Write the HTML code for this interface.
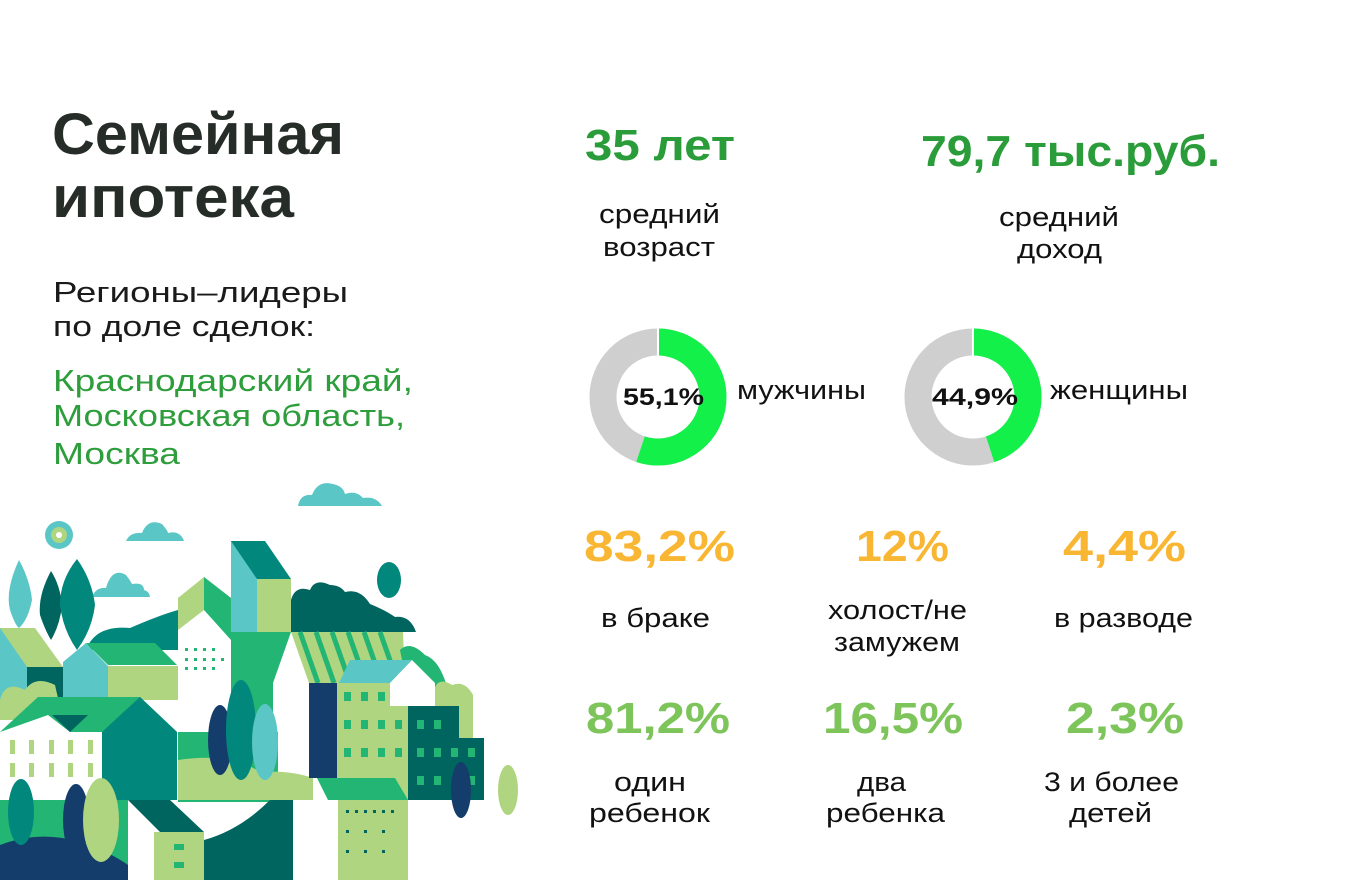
<!DOCTYPE html>
<html><head><meta charset="utf-8"><style>html,body{margin:0;padding:0;background:#fff}svg{display:block}</style></head>
<body>
<svg width="1360" height="880" viewBox="0 0 1360 880" xmlns="http://www.w3.org/2000/svg" font-family="Liberation Sans, DejaVu Sans, sans-serif">
<g lengthAdjust="spacingAndGlyphs">
<text x="52" y="154" font-size="58" font-weight="bold" fill="#262c28" textLength="292" lengthAdjust="spacingAndGlyphs">Семейная</text>
<text x="52" y="217" font-size="58" font-weight="bold" fill="#262c28" textLength="242" lengthAdjust="spacingAndGlyphs">ипотека</text>
<text x="53" y="302" font-size="29" fill="#1a1a1a" textLength="295" lengthAdjust="spacingAndGlyphs">Регионы–лидеры</text>
<text x="53" y="336" font-size="29" fill="#1a1a1a" textLength="262" lengthAdjust="spacingAndGlyphs">по доле сделок:</text>
<text x="53" y="391" font-size="31" fill="#2e9e3c" textLength="360" lengthAdjust="spacingAndGlyphs">Краснодарский край,</text>
<text x="53" y="426" font-size="31" fill="#2e9e3c" textLength="352" lengthAdjust="spacingAndGlyphs">Московская область,</text>
<text x="53" y="464" font-size="31" fill="#2e9e3c" textLength="127" lengthAdjust="spacingAndGlyphs">Москва</text>

<text x="585" y="160" font-size="44" font-weight="bold" fill="#2a9d3a" textLength="150" lengthAdjust="spacingAndGlyphs">35 лет</text>
<text x="921" y="166" font-size="44" font-weight="bold" fill="#2a9d3a" textLength="299" lengthAdjust="spacingAndGlyphs">79,7 тыс.руб.</text>
<g font-size="27" fill="#111">
<text x="599" y="223" textLength="121" lengthAdjust="spacingAndGlyphs">средний</text>
<text x="603" y="256" textLength="112" lengthAdjust="spacingAndGlyphs">возраст</text>
<text x="999" y="226" textLength="120" lengthAdjust="spacingAndGlyphs">средний</text>
<text x="1017" y="258" textLength="85" lengthAdjust="spacingAndGlyphs">доход</text>
<text x="737" y="399" textLength="129" lengthAdjust="spacingAndGlyphs">мужчины</text>
<text x="1050" y="399" textLength="138" lengthAdjust="spacingAndGlyphs">женщины</text>
<text x="601" y="627" textLength="109" lengthAdjust="spacingAndGlyphs">в браке</text>
<text x="828" y="619" textLength="139" lengthAdjust="spacingAndGlyphs">холост/не</text>
<text x="834" y="651" textLength="126" lengthAdjust="spacingAndGlyphs">замужем</text>
<text x="1054" y="627" textLength="139" lengthAdjust="spacingAndGlyphs">в разводе</text>
<text x="614" y="791" textLength="72" lengthAdjust="spacingAndGlyphs">один</text>
<text x="589" y="822" textLength="121" lengthAdjust="spacingAndGlyphs">ребенок</text>
<text x="857" y="791" textLength="49" lengthAdjust="spacingAndGlyphs">два</text>
<text x="826" y="822" textLength="119" lengthAdjust="spacingAndGlyphs">ребенка</text>
<text x="1044" y="791" textLength="135" lengthAdjust="spacingAndGlyphs">3 и более</text>
<text x="1069" y="822" textLength="83" lengthAdjust="spacingAndGlyphs">детей</text>
</g>
<g font-size="44" font-weight="bold" fill="#f8b632">
<text x="584" y="561" textLength="151" lengthAdjust="spacingAndGlyphs">83,2%</text>
<text x="856" y="561" textLength="93" lengthAdjust="spacingAndGlyphs">12%</text>
<text x="1063" y="561" textLength="123" lengthAdjust="spacingAndGlyphs">4,4%</text>
</g>
<g font-size="44" font-weight="bold" fill="#7dc45a">
<text x="586" y="733" textLength="144" lengthAdjust="spacingAndGlyphs">81,2%</text>
<text x="823" y="733" textLength="140" lengthAdjust="spacingAndGlyphs">16,5%</text>
<text x="1066" y="733" textLength="118" lengthAdjust="spacingAndGlyphs">2,3%</text>
</g>
</g>

<!-- donuts -->
<g fill="none" stroke-width="27">
<circle cx="658" cy="397" r="55" stroke="#cfcfcf"/>
<circle cx="658" cy="397" r="55" stroke="#14f04a" stroke-dasharray="190.4 400" transform="rotate(-90 658 397)"/>
<circle cx="973" cy="397" r="55" stroke="#cfcfcf"/>
<circle cx="973" cy="397" r="55" stroke="#14f04a" stroke-dasharray="155.2 400" transform="rotate(-90 973 397)"/>
</g>
<line x1="658" y1="328" x2="658" y2="356" stroke="#fff" stroke-width="2"/>
<line x1="973" y1="328" x2="973" y2="356" stroke="#fff" stroke-width="2"/>
<text x="623" y="405" font-size="24" font-weight="bold" fill="#111" textLength="81" lengthAdjust="spacingAndGlyphs">55,1%</text>
<text x="932" y="405" font-size="24" font-weight="bold" fill="#111" textLength="86" lengthAdjust="spacingAndGlyphs">44,9%</text>

<!-- illustration -->
<g>
<!-- clouds -->
<path d="M298 506 Q300 494 312 495 Q318 480 333 484 Q343 486 345 494 Q356 490 363 498 Q376 496 382 506Z" fill="#5bc6c6"/>
<path d="M126 541 Q130 532 142 533 Q148 518 162 524 Q168 531 168 533 Q180 530 184 541Z" fill="#5bc6c6"/>
<path d="M92 597 Q96 587 106 588 Q112 567 126 575 Q130 580 132 584 Q144 582 144 590 Q149 591 150 597Z" fill="#5bc6c6"/>
<circle cx="59" cy="535" r="14" fill="#5bc6c6"/><circle cx="59" cy="535" r="8" fill="#afd580"/><circle cx="59" cy="535" r="3" fill="#fff"/>
<!-- back hills -->
<path d="M86 650 Q95 625 130 628 Q160 615 178 610 L178 650Z" fill="#02877c"/>
<!-- left house -->
<rect x="0" y="628" width="30" height="90" fill="#5bc6c6"/>
<polygon points="0,628 35,628 63,667 27,667" fill="#afd580"/>
<rect x="27" y="667" width="36" height="40" fill="#00645f"/>
<path d="M0 700 Q5 680 25 690 Q35 675 55 685 L63 720 L0 720Z" fill="#afd580"/>
<!-- trees left -->
<path d="M19 560 Q5 590 10 610 Q15 625 19 628 Q28 620 32 600 Q30 580 19 560Z" fill="#5bc6c6"/>
<path d="M51 571 Q38 595 40 615 Q45 630 51 640 Q60 625 62 605 Q60 585 51 571Z" fill="#00645f"/>
<path d="M77 559 Q60 580 60 605 Q63 630 77 650 Q92 630 95 605 Q92 580 77 559Z" fill="#02877c"/>
<!-- house middle-left -->
<polygon points="63,662 86,643 108,666 108,697 63,697" fill="#5bc6c6"/>
<rect x="108" y="666" width="70" height="34" fill="#afd580"/>
<polygon points="86,643 155,643 177,665 108,665" fill="#22b573"/>
<!-- big green roof building -->
<polygon points="0,732 38,697 140,697 177,732" fill="#22b573"/>
<rect x="0" y="732" width="102" height="70" fill="#fff"/>
<polygon points="0,732 48,715 70,732" fill="#fff"/>
<polygon points="52,715 88,715 70,732" fill="#00645f"/>
<polygon points="102,732 140,697 177,732 177,800 102,800" fill="#02877c"/>
<g fill="#afd580"><rect x="10" y="740" width="5" height="14"/><rect x="29" y="740" width="5" height="14"/><rect x="49" y="740" width="5" height="14"/><rect x="68" y="740" width="5" height="14"/><rect x="88" y="740" width="5" height="14"/><rect x="10" y="763" width="5" height="14"/><rect x="29" y="763" width="5" height="14"/><rect x="49" y="763" width="5" height="14"/><rect x="68" y="763" width="5" height="14"/><rect x="88" y="763" width="5" height="14"/></g>
<!-- bottom left -->
<rect x="0" y="800" width="128" height="80" fill="#22b573"/>
<path d="M0 845 Q40 830 80 842 Q110 852 128 865 L128 880 L0 880Z" fill="#143d6b"/>
<ellipse cx="21" cy="812" rx="13" ry="33" fill="#02877c"/>
<ellipse cx="76" cy="820" rx="13" ry="36" fill="#143d6b"/>
<ellipse cx="101" cy="820" rx="18" ry="42" fill="#afd580"/>
<!-- white tall building center -->
<rect x="178" y="610" width="53" height="150" fill="#fff"/>
<polygon points="178,598 204,577 231,598 204,610 178,630" fill="#afd580"/>
<polygon points="204,577 231,598 231,640 204,610" fill="#22b573"/>
<g fill="#22b573"><rect x="185" y="648" width="3" height="3"/><rect x="194" y="648" width="3" height="3"/><rect x="203" y="648" width="3" height="3"/><rect x="212" y="648" width="3" height="3"/><rect x="185" y="658" width="3" height="3"/><rect x="194" y="658" width="3" height="3"/><rect x="203" y="658" width="3" height="3"/><rect x="212" y="658" width="3" height="3"/><rect x="221" y="658" width="3" height="3"/><rect x="185" y="667" width="3" height="3"/><rect x="194" y="667" width="3" height="3"/><rect x="203" y="667" width="3" height="3"/><rect x="212" y="667" width="3" height="3"/></g>
<!-- tall tower -->
<polygon points="231,632 291,632 273,683 273,740 231,740" fill="#22b573"/>
<rect x="231" y="541" width="26" height="91" fill="#5bc6c6"/>
<rect x="257" y="579" width="34" height="53" fill="#afd580"/>
<polygon points="231,541 265,541 291,579 257,579" fill="#02877c"/>
<rect x="178" y="732" width="100" height="70" fill="#22b573"/>
<path d="M178 760 Q230 752 260 772 Q290 770 313 778 L313 800 L178 800Z" fill="#afd580"/>
<ellipse cx="220" cy="740" rx="12" ry="35" fill="#143d6b"/>
<ellipse cx="241" cy="730" rx="15" ry="50" fill="#02877c"/>
<ellipse cx="265" cy="742" rx="13" ry="38" fill="#5bc6c6"/>
<!-- bottom center -->
<polygon points="128,800 170,800 204,832 160,832" fill="#00645f"/>
<rect x="154" y="832" width="50" height="48" fill="#afd580"/>
<rect x="174" y="844" width="10" height="6" fill="#22b573"/><rect x="174" y="862" width="10" height="6" fill="#22b573"/>
<path d="M204 840 Q240 830 270 800 L293 800 L293 880 L204 880Z" fill="#00645f"/>
<!-- right dark bushes -->
<path d="M291 632 L291 600 Q295 585 310 590 Q315 578 330 585 Q340 585 345 592 Q360 588 370 604 Q385 610 395 617 Q410 615 416 632Z" fill="#00645f"/>
<ellipse cx="389" cy="580" rx="12" ry="18" fill="#02877c"/>
<!-- striped field -->
<polygon points="291,632 403,632 405,683 309,683" fill="#afd580"/>
<g stroke="#22b573" stroke-width="5"><line x1="300" y1="632" x2="318" y2="683"/><line x1="316" y1="632" x2="334" y2="683"/><line x1="332" y1="632" x2="350" y2="683"/><line x1="348" y1="632" x2="366" y2="683"/><line x1="364" y1="632" x2="382" y2="683"/><line x1="380" y1="632" x2="398" y2="683"/></g>
<path d="M400 650 Q410 640 425 655 Q440 660 448 690 L408 690Z" fill="#22b573"/>
<!-- right buildings -->
<rect x="309" y="683" width="28" height="95" fill="#143d6b"/>
<rect x="337" y="683" width="71" height="117" fill="#afd580"/>
<polygon points="339,683 350,660 412,660 390,683" fill="#5bc6c6"/>
<polygon points="390,683 412,660 435,683 435,706 390,706" fill="#fff"/>
<g fill="#22b573"><rect x="344" y="692" width="7" height="9"/><rect x="361" y="692" width="7" height="9"/><rect x="378" y="692" width="7" height="9"/><rect x="344" y="720" width="7" height="9"/><rect x="361" y="720" width="7" height="9"/><rect x="378" y="720" width="7" height="9"/><rect x="395" y="720" width="7" height="9"/><rect x="344" y="748" width="7" height="9"/><rect x="361" y="748" width="7" height="9"/><rect x="378" y="748" width="7" height="9"/><rect x="395" y="748" width="7" height="9"/></g>
<path d="M435 687 Q440 677 452 685 Q465 680 473 695 L473 738 L435 738Z" fill="#afd580"/>
<rect x="408" y="706" width="51" height="94" fill="#00645f"/>
<rect x="459" y="738" width="25" height="62" fill="#00645f"/>
<g fill="#22b573"><rect x="417" y="720" width="7" height="9"/><rect x="434" y="720" width="7" height="9"/><rect x="417" y="748" width="7" height="9"/><rect x="434" y="748" width="7" height="9"/><rect x="451" y="748" width="7" height="9"/><rect x="468" y="748" width="7" height="9"/><rect x="417" y="776" width="7" height="9"/><rect x="434" y="776" width="7" height="9"/><rect x="468" y="776" width="7" height="9"/></g>
<polygon points="317,778 395,778 408,800 328,800" fill="#22b573"/>
<rect x="338" y="800" width="70" height="80" fill="#afd580"/>
<g fill="#00645f"><rect x="346" y="810" width="3" height="3"/><rect x="355" y="810" width="3" height="3"/><rect x="364" y="810" width="3" height="3"/><rect x="373" y="810" width="3" height="3"/><rect x="382" y="810" width="3" height="3"/><rect x="391" y="810" width="3" height="3"/><rect x="346" y="830" width="3" height="3"/><rect x="364" y="830" width="3" height="3"/><rect x="382" y="830" width="3" height="3"/><rect x="346" y="850" width="3" height="3"/><rect x="364" y="850" width="3" height="3"/><rect x="382" y="850" width="3" height="3"/></g>
<ellipse cx="461" cy="790" rx="10" ry="28" fill="#143d6b"/>
<ellipse cx="508" cy="790" rx="10" ry="25" fill="#afd580"/>
</g>
</svg>
</body></html>
